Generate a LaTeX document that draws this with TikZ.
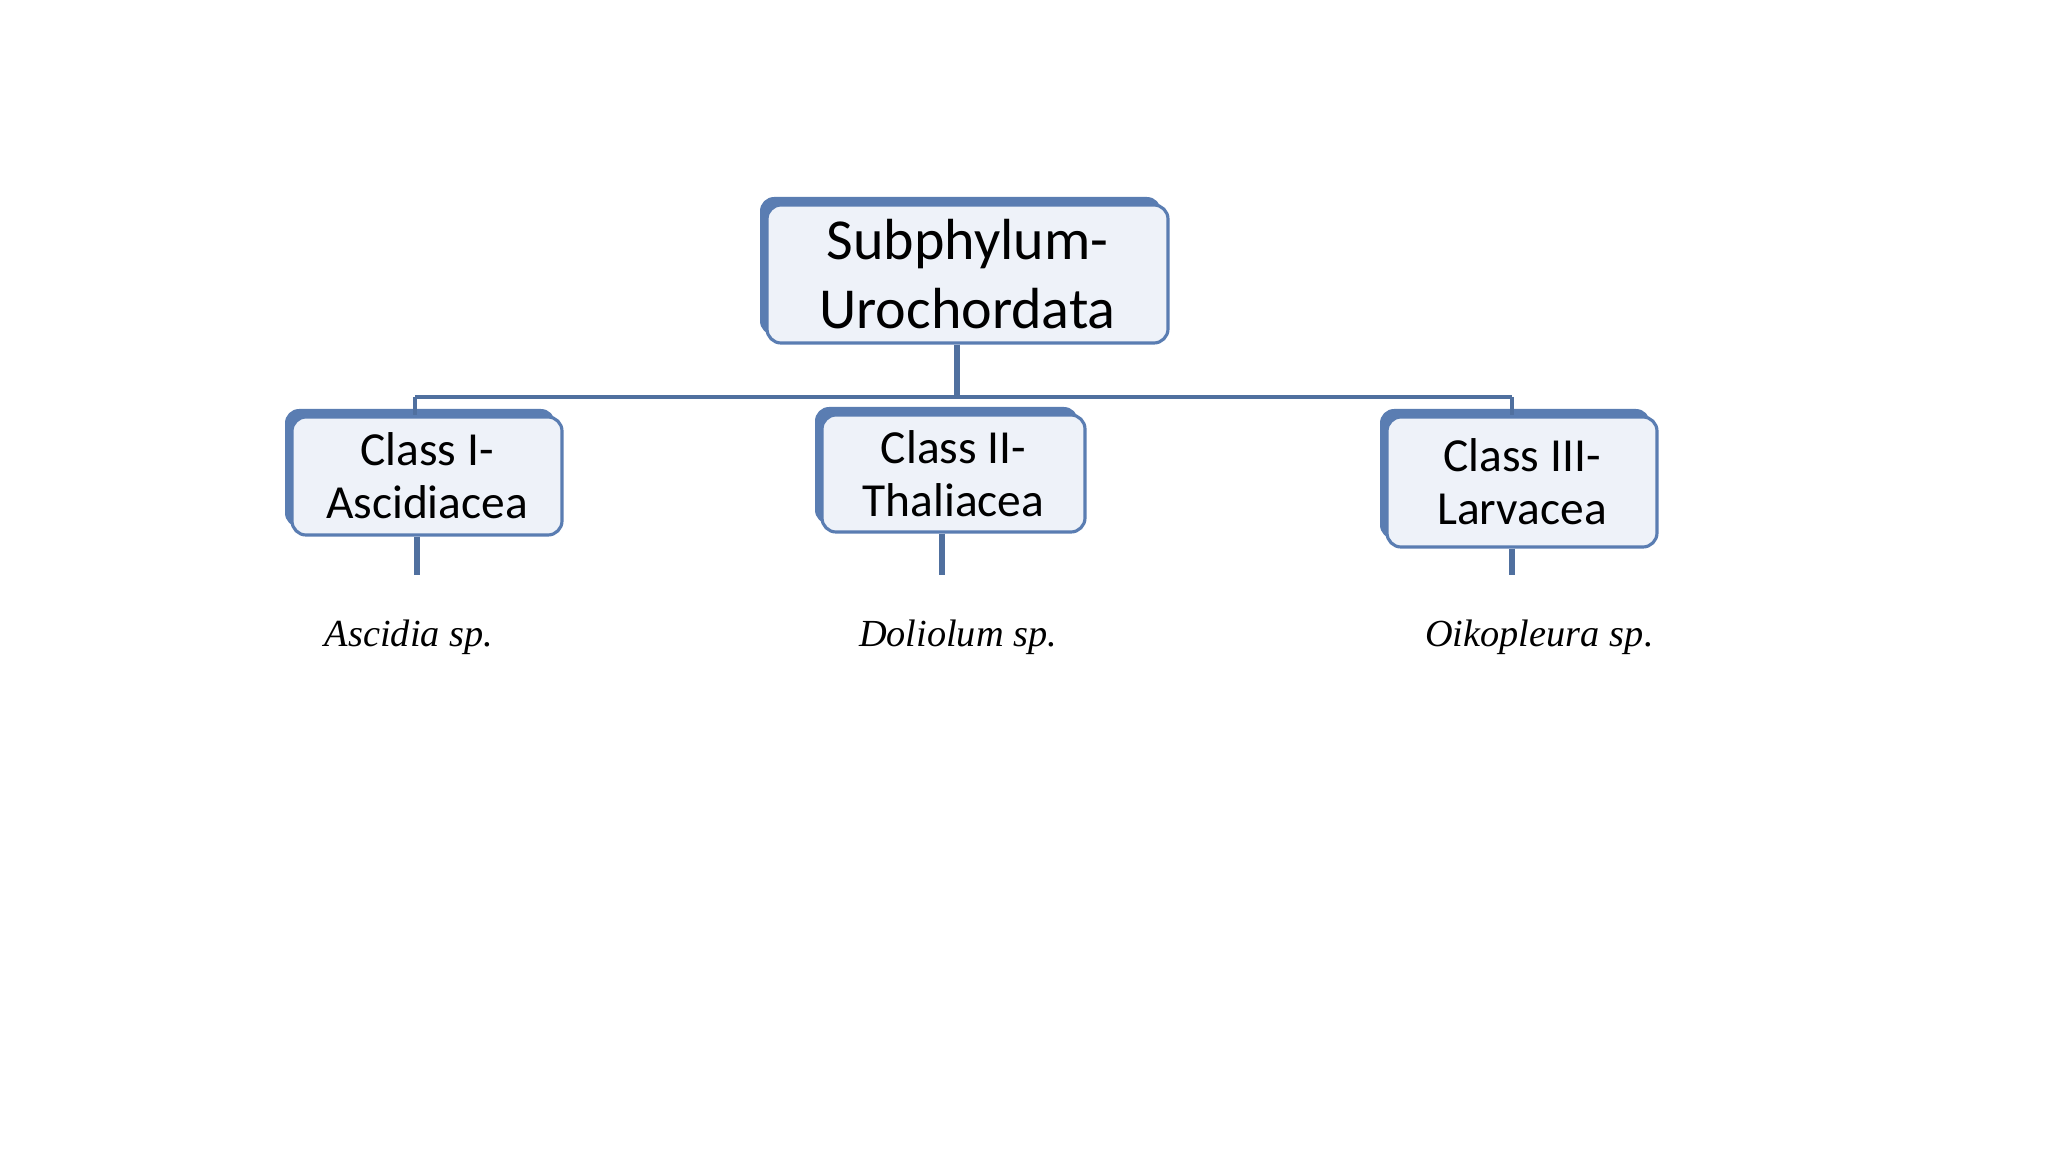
\documentclass[tikz,border=0pt]{standalone}
\usepackage{fontspec}
\setmainfont{Liberation Serif}
\newfontfamily\boxfont{Carlito}
\usetikzlibrary{shadows}
\definecolor{edgeblue}{HTML}{5A7DB2}
\definecolor{linkblue}{HTML}{50709F}
\definecolor{paleblue}{HTML}{EEF2F9}

\begin{document}
\begin{tikzpicture}[
  taxon/.style={draw=edgeblue, line width=.9pt, rounded corners=4pt, fill=paleblue,
                align=center, inner sep=0pt, font=\boxfont,
                general shadow={fill=edgeblue, shadow xshift=-.7mm, shadow yshift=.8mm}},
  species/.style={font=\itshape\fontsize{10.9}{12}\selectfont, anchor=base},
  trunk/.style={draw=linkblue, line width=1.5pt},
  link/.style={draw=linkblue, line width=1.2pt}
]
  \useasboundingbox (0,0) rectangle (20.48,-11.52);

  \node[taxon, minimum width=4.01cm, minimum height=1.38cm,
        font=\boxfont\fontsize{16.5}{19.7}\selectfont] (sub) at (9.675,-2.74)
        {Subphylum-\\Urochordata};

  \node[taxon, minimum width=2.70cm, minimum height=1.18cm,
        font=\boxfont\fontsize{13.5}{15}\selectfont] (asc) at (4.27,-4.76)
        {Class I-\\Ascidiacea};
  \node[taxon, minimum width=2.63cm, minimum height=1.17cm,
        font=\boxfont\fontsize{13.5}{15}\selectfont] (tha) at (9.535,-4.735)
        {Class II-\\Thaliacea};
  \node[taxon, minimum width=2.70cm, minimum height=1.30cm,
        font=\boxfont\fontsize{13.5}{15}\selectfont] (lar) at (15.22,-4.82)
        {Class III-\\Larvacea};

  \node[species] (ascsp) at (4.09,-6.47) {Ascidia sp.};
  \node[species] (dolsp) at (9.58,-6.47) {Doliolum sp.};
  \node[species] (oiksp) at (15.39,-6.47) {Oikopleura sp\upshape.};

  % tree lines
  \coordinate (barL) at (4.15,-3.97);
  \coordinate (barR) at (15.12,-3.97);
  \coordinate (stemend) at (0,-5.75);
  \draw[trunk] ([xshift=-1.05mm]sub.south) -- ([xshift=-1.05mm]sub.south |- barL);
  \draw[link] (barL) -- (barR);
  \draw[link] (barL) -- (barL |- asc.north);
  \draw[link] (barR) -- (barR |- lar.north);
  \draw[trunk] ([xshift=-1mm]asc.south) -- ([xshift=-1mm]asc.south |- stemend);
  \draw[trunk] ([xshift=-1.15mm]tha.south) -- ([xshift=-1.15mm]tha.south |- stemend);
  \draw[trunk] ([xshift=-1mm]lar.south) -- ([xshift=-1mm]lar.south |- stemend);
\end{tikzpicture}
\end{document}
